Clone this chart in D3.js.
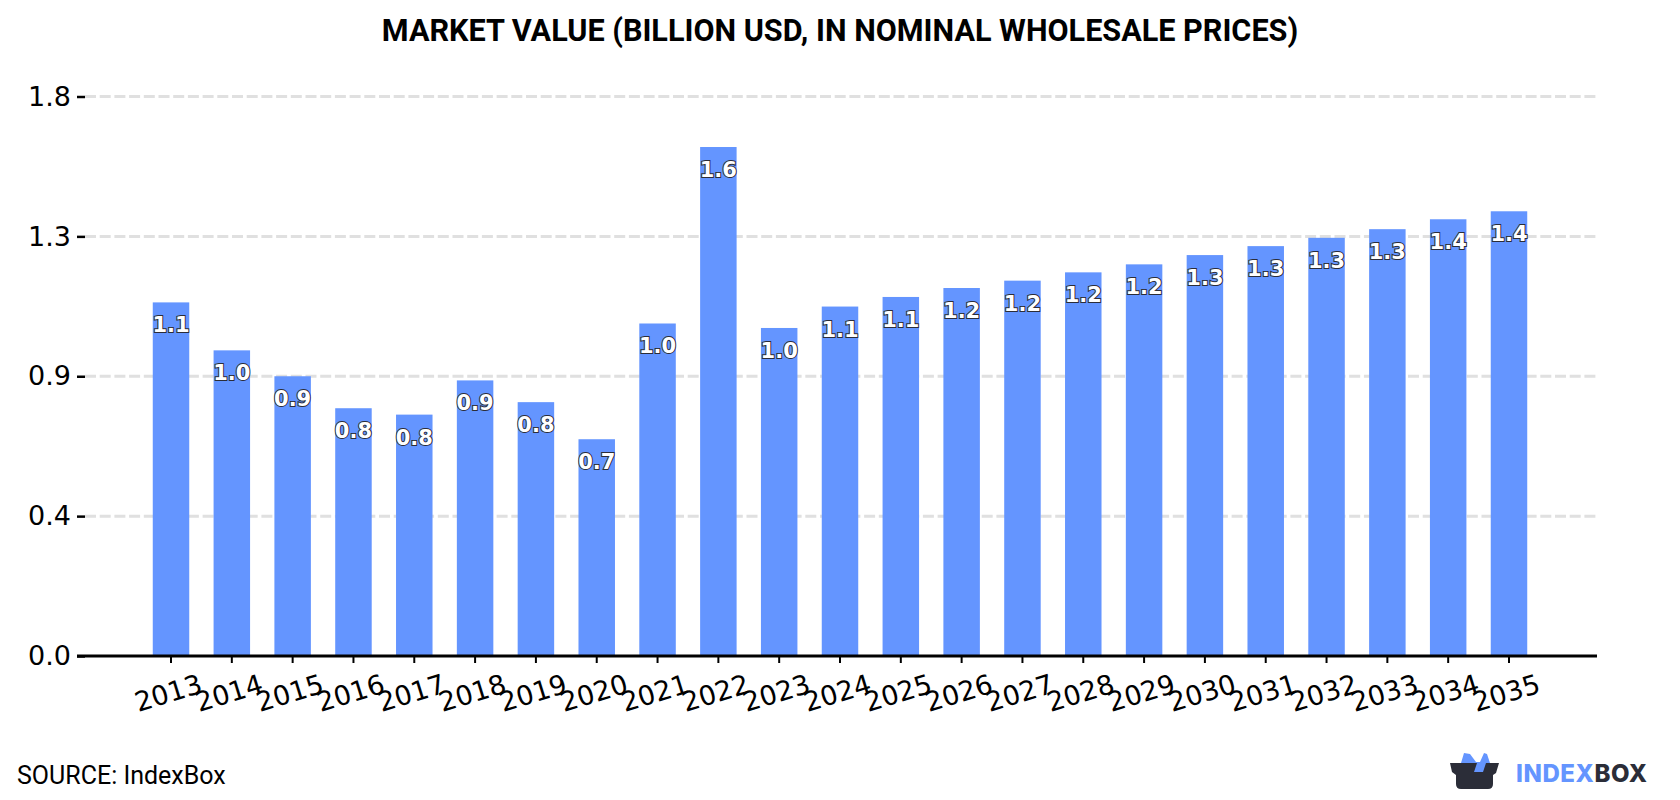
<!DOCTYPE html>
<html>
<head>
<meta charset="utf-8">
<script src="https://cdn.jsdelivr.net/npm/d3@7"></script>
<style>
  html, body { margin: 0; padding: 0; background: #fff; }
  svg { display: block; }
</style>
</head>
<body>
<svg id="chart" width="1680" height="800"></svg>
<script>
const years = [2013, 2014, 2015, 2016, 2017, 2018, 2019, 2020, 2021, 2022, 2023, 2024,
  2025, 2026, 2027, 2028, 2029, 2030, 2031, 2032, 2033, 2034, 2035];
const marketValues = [1.106, 0.956, 0.875, 0.775, 0.755, 0.862, 0.794, 0.678, 1.04, 1.592, 1.026, 1.093,
  1.123, 1.151, 1.174, 1.2, 1.225, 1.254, 1.282, 1.308, 1.335, 1.366, 1.391];
const yTicks = [0, 0.4375, 0.875, 1.3125, 1.75];
const titleText = "MARKET VALUE (BILLION USD, IN NOMINAL WHOLESALE PRICES)";
const sourceText = "SOURCE: IndexBox";

const svg = d3.select("#chart");
const axisFont = "'DejaVu Sans', sans-serif";
const barColor = "#6495ff";
const inkColor = "#2b2d38";
const plotLeft = 85, plotRight = 1597, plotTop = 96.5, plotBottom = 656;

const x = d3.scaleBand().domain(years).range([140.6, 1539.4]).paddingInner(0.4).paddingOuter(0.2);
const y = d3.scaleLinear().domain([0, 1.75]).range([plotBottom, plotTop]);

// Title
svg.append("text").attr("x", 840).attr("y", 41).attr("text-anchor", "middle")
  .attr("font-family", "Roboto, sans-serif").attr("font-weight", 700).attr("font-size", 30.6)
  .attr("fill", "#000").text(titleText);

// Dashed horizontal gridlines
svg.append("g").selectAll("line").data(yTicks.filter(d => d > 0)).join("line")
  .attr("x1", plotLeft).attr("x2", plotRight)
  .attr("y1", d => y(d)).attr("y2", d => y(d))
  .attr("stroke", "#e0e0e0").attr("stroke-width", 3).attr("stroke-dasharray", "11 3.7");

// Bars
svg.append("g").selectAll("rect").data(years).join("rect")
  .attr("x", d => x(d)).attr("width", x.bandwidth())
  .attr("y", (d, i) => y(marketValues[i]))
  .attr("height", (d, i) => y(0) - y(marketValues[i]))
  .attr("fill", barColor);

// Y axis: tick marks and labels, no spine
const yAxis = svg.append("g").attr("transform", `translate(${plotLeft},0)`)
  .call(d3.axisLeft(y).tickValues(yTicks).tickFormat(d => d.toFixed(1)).tickSize(8).tickPadding(6));
yAxis.select(".domain").remove();
yAxis.selectAll("line").attr("stroke", "#000").attr("stroke-width", 2.5);
yAxis.selectAll("text").attr("font-family", axisFont).attr("font-size", 27).attr("fill", "#000");

// X axis
const xAxis = svg.append("g").attr("transform", `translate(0,${plotBottom})`)
  .call(d3.axisBottom(x).tickSize(7).tickSizeOuter(0).tickPadding(0));
xAxis.select(".domain").remove();
xAxis.selectAll("line").attr("stroke", "#000").attr("stroke-width", 2);
xAxis.selectAll("text")
  .attr("font-family", axisFont).attr("font-size", 27).attr("fill", "#000")
  .attr("text-anchor", "middle")
  .attr("dy", 0)
  .attr("y", 0)
  .attr("transform", "translate(0,46) rotate(-17)");

svg.append("line").attr("x1", plotLeft - 8).attr("x2", plotRight)
  .attr("y1", plotBottom).attr("y2", plotBottom)
  .attr("stroke", "#000").attr("stroke-width", 3);

// Value labels with a dark outline
svg.append("g").selectAll("text").data(years).join("text")
  .attr("x", d => x(d) + x.bandwidth() / 2)
  .attr("y", (d, i) => y(marketValues[i]) + 30)
  .attr("text-anchor", "middle")
  .attr("font-family", axisFont).attr("font-weight", 700).attr("font-size", 21)
  .attr("fill", "#fff").attr("stroke", "#2b2d38").attr("stroke-width", 2)
  .attr("paint-order", "stroke")
  .text((d, i) => marketValues[i].toFixed(1));

// Source line
svg.append("text").attr("x", 17).attr("y", 784)
  .attr("font-family", "Roboto, sans-serif").attr("font-size", 25).attr("fill", "#000")
  .text(sourceText);

// Brand mark: open box with a blue shape rising out of it
const logo = svg.append("g");
logo.append("path").attr("fill", barColor)
  .attr("d", "M1461 763 L1464 753 L1470 754 L1476 762 L1480 762 L1484 753 L1487 754 L1490 763 L1486 772 L1464 772 Z");
logo.append("path").attr("fill", inkColor)
  .attr("d", "M1450 763 L1477 763 L1474 772 L1483 772 L1486 763 L1499 763 L1496 773 L1493 775 L1493 784 Q1493 789 1488 789 L1461 789 Q1456 789 1456 784 L1456 775 L1452 772 Z");
const brand = svg.append("text").attr("x", 1516).attr("y", 782)
  .attr("font-family", "Inter, Roboto, sans-serif").attr("font-weight", 800).attr("font-size", 24)
  .attr("letter-spacing", 0.6);
brand.append("tspan").attr("fill", barColor).text("INDEX");
brand.append("tspan").attr("fill", inkColor).text("BOX");
</script>
</body>
</html>
